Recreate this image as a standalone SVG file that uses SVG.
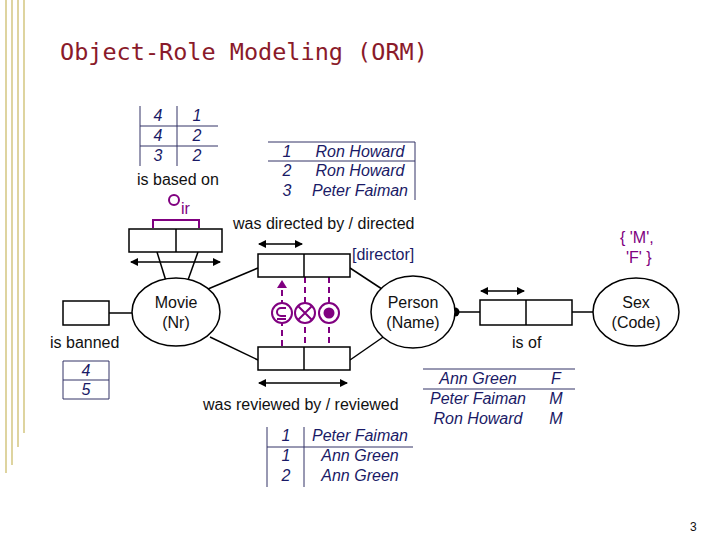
<svg xmlns="http://www.w3.org/2000/svg" width="720" height="540" viewBox="0 0 720 540">
<style>
text{font-family:"Liberation Sans",Arial,sans-serif;font-size:16px;fill:#111}
.t{font-style:italic;fill:#1a1a66;text-anchor:middle}
.tl{stroke:#333366;stroke-width:1;fill:none}
.box{fill:#fff;stroke:#000;stroke-width:1.5}
.ln{stroke:#000;stroke-width:1.5;fill:none}
.p{stroke:#800080;stroke-width:2;fill:none}
.pd{stroke:#800080;stroke-width:2;stroke-dasharray:6,4;fill:none}
.ell{fill:#fff;stroke:#000;stroke-width:1.5}
.c{text-anchor:middle}
</style>
<defs>
<marker id="ah" markerWidth="8" markerHeight="8" refX="7" refY="4" orient="auto-start-reverse" markerUnits="userSpaceOnUse"><path d="M0,0L8,4L0,8z" fill="#000"/></marker>
</defs>
<g id="stripes" stroke="#c8b860" stroke-width="1.2">
<line x1="6" y1="0" x2="6" y2="473"/><line x1="12" y1="0" x2="12" y2="465"/><line x1="18" y1="0" x2="18" y2="447"/><line x1="24" y1="0" x2="24" y2="433"/>
</g>
<text x="60" y="60" style="font-family:'DejaVu Sans Mono',monospace;font-size:23.5px;fill:#8a1a2a">Object-Role Modeling (ORM)</text>
<text x="690" y="531" style="font-size:12px">3</text>

<g id="connectors">
<line class="ln" x1="157" y1="252" x2="166" y2="281"/>
<line class="ln" x1="198" y1="252" x2="188" y2="280"/>
<line class="ln" x1="109" y1="313" x2="132" y2="313"/>
<line class="ln" x1="208" y1="289" x2="258" y2="268"/>
<line class="ln" x1="350" y1="268" x2="388" y2="293"/>
<line class="ln" x1="210" y1="337" x2="258" y2="360"/>
<line class="ln" x1="350" y1="360" x2="389" y2="333"/>
<line class="ln" x1="455" y1="312" x2="480" y2="312"/>
<line class="ln" x1="572" y1="312" x2="594" y2="312"/>
<line class="ln" x1="131" y1="262" x2="220" y2="262" marker-start="url(#ah)" marker-end="url(#ah)"/>
<line class="ln" x1="259" y1="244" x2="302" y2="244" marker-start="url(#ah)" marker-end="url(#ah)"/>
<line class="ln" x1="481" y1="291" x2="524" y2="291" marker-start="url(#ah)" marker-end="url(#ah)"/>
<line class="ln" x1="259" y1="383" x2="347" y2="383" marker-start="url(#ah)" marker-end="url(#ah)"/>
<circle cx="455" cy="312" r="4.5" fill="#000"/>
</g>

<g id="constraints">
<circle class="p" cx="174" cy="200" r="5"/>
<text x="181" y="214" style="fill:#800080">ir</text>
<polyline class="p" points="153,228 153,220 199,220 199,228"/>
<line class="pd" x1="282" y1="290" x2="282" y2="347"/>
<path d="M277,288L282,280L287,288z" fill="#800080"/>
<line class="pd" x1="305" y1="277" x2="305" y2="347"/>
<line class="pd" x1="329" y1="277" x2="329" y2="347"/>
<circle cx="282" cy="313" r="10" fill="#fff" stroke="#800080" stroke-width="2"/>
<path class="p" d="M286,308H281a4,4 0 0 0 0,8H286M277,319H286" stroke-width="1.8"/>
<circle cx="305" cy="313" r="10" fill="#fff" stroke="#800080" stroke-width="2"/>
<path class="p" d="M298,306L312,320M312,306L298,320" stroke-width="1.8"/>
<circle cx="329" cy="313" r="10" fill="#fff" stroke="#800080" stroke-width="2"/>
<circle cx="329" cy="313" r="5.5" fill="#800080"/>
<text x="620" y="243" style="fill:#800080">{ 'M',</text>
<text x="626" y="263" style="fill:#800080">'F' }</text>
</g>

<g id="movie"><ellipse class="ell" cx="176" cy="312" rx="44" ry="34"/><text class="c" x="176" y="308">Movie</text><text class="c" x="176" y="328">(Nr)</text></g>
<g id="person"><ellipse class="ell" cx="413" cy="312" rx="42" ry="36"/><text class="c" x="413" y="308">Person</text><text class="c" x="413" y="328">(Name)</text></g>
<g id="sex"><ellipse class="ell" cx="636" cy="312" rx="43" ry="34"/><text class="c" x="636" y="308">Sex</text><text class="c" x="636" y="328">(Code)</text></g>

<g id="basedon"><rect class="box" x="129" y="229" width="93" height="23"/><line class="ln" x1="176" y1="229" x2="176" y2="252"/><text x="137" y="185">is based on</text></g>
<g id="directed"><rect class="box" x="258" y="254" width="92" height="23"/><line class="ln" x1="304" y1="254" x2="304" y2="277"/><text x="233" y="229">was directed by / directed</text><text x="352" y="260" style="fill:#1a1a66">[director]</text></g>
<g id="reviewed"><rect class="box" x="258" y="347" width="92" height="23"/><line class="ln" x1="304" y1="347" x2="304" y2="370"/><text x="203" y="410">was reviewed by / reviewed</text></g>
<g id="banned"><rect class="box" x="63" y="301" width="46" height="24"/><text x="50" y="348">is banned</text></g>
<g id="isof"><rect class="box" x="480" y="300" width="92" height="25"/><line class="ln" x1="526" y1="300" x2="526" y2="325"/><text x="512" y="348">is of</text></g>

<g id="table1">
<path class="tl" d="M140,106V166M177,106V166M140,126H218M140,146H218"/>
<text class="t" x="158" y="121">4</text><text class="t" x="197" y="121">1</text>
<text class="t" x="158" y="141">4</text><text class="t" x="197" y="141">2</text>
<text class="t" x="158" y="161">3</text><text class="t" x="197" y="161">2</text>
</g>
<g id="table2">
<path class="tl" d="M268,142H415M268,161H415M415,142V200"/>
<text class="t" x="287" y="157">1</text><text class="t" x="360" y="157">Ron Howard</text>
<text class="t" x="287" y="176">2</text><text class="t" x="360" y="176">Ron Howard</text>
<text class="t" x="287" y="196">3</text><text class="t" x="360" y="196">Peter Faiman</text>
</g>
<g id="table3">
<path class="tl" d="M63,361H109V399H63ZM63,380H109"/>
<text class="t" x="86" y="376">4</text><text class="t" x="86" y="395">5</text>
</g>
<g id="table4">
<path class="tl" d="M267,427V487M304,427V487M267,447H413"/>
<text class="t" x="286" y="441">1</text><text class="t" x="360" y="441">Peter Faiman</text>
<text class="t" x="286" y="461">1</text><text class="t" x="360" y="461">Ann Green</text>
<text class="t" x="286" y="481">2</text><text class="t" x="360" y="481">Ann Green</text>
</g>
<g id="table5">
<path class="tl" d="M423,369H575M423,389H575"/>
<text class="t" x="478" y="384">Ann Green</text><text class="t" x="556" y="384">F</text>
<text class="t" x="478" y="404">Peter Faiman</text><text class="t" x="556" y="404">M</text>
<text class="t" x="478" y="424">Ron Howard</text><text class="t" x="556" y="424">M</text>
</g>
</svg>
